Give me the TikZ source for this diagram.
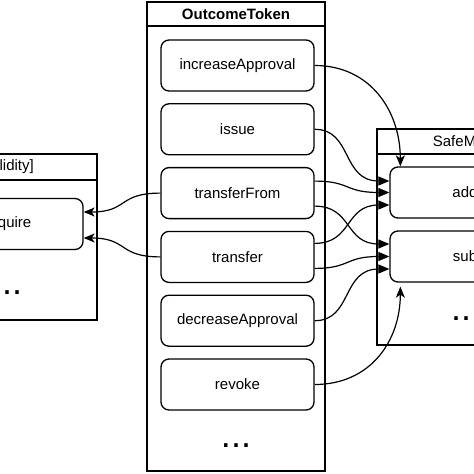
\documentclass[tikz,border=0pt]{standalone}
\usepackage{fontspec}
\setmainfont{Liberation Sans}
\usetikzlibrary{arrows.meta,calc}
\begin{document}
\begin{tikzpicture}[x=1pt,y=-1pt,
  txt/.style={font=\fontsize{15}{18}\selectfont},
  cont/.style={draw, line width=1.3pt, inner sep=0pt},
  fn/.style={draw, line width=1.3pt, rounded corners=8pt, minimum height=51pt, inner sep=0pt, txt},
  dots/.style={anchor=base, inner sep=0pt, font=\fontsize{36}{40}\selectfont},
  conn/.style={line width=1.2pt},
  blk/.style={-{Triangle[length=11pt,width=9pt]}},
  cls/.style={-{Stealth[length=11pt,width=9pt,inset=3pt]}}
]
\useasboundingbox (0,0) rectangle (474,474);
\clip (0,0) rectangle (474,474);

% left container
\node[cont, minimum width=178pt, minimum height=166pt] (sol) at (8,237) {};
\draw[line width=1.3pt] (sol.west |- 0,180) -- (sol.east |- 0,180);
\node[txt] (solt) at (5.5,167) {[Solidity]};
\node[fn, minimum width=150pt] (req) at (8,224) {require};
\node[dots] (sold) at (7,294) {...};

% SafeMath container
\node[cont, minimum width=176pt, minimum height=216pt] (sm) at (465,237) {};
\draw[line width=1.3pt] (sm.west |- 0,154) -- (sm.east |- 0,154);
\node[txt] (smt) at (465,141.5) {SafeMath};
\node[fn, minimum width=150pt] (add) at (465,192.5) {add};
\node[fn, minimum width=150pt] (sub) at (465,256.5) {sub};
\node[dots] (smd) at (466,320) {...};

% OutcomeToken container
\node[cont, line width=2.6pt, minimum width=178pt, minimum height=469pt] (ot) at (236,236.5) {};
\draw[line width=2.6pt] (ot.west |- 0,26) -- (ot.east |- 0,26);
\node[txt, font=\fontsize{15}{18}\selectfont\bfseries] (ott) at (236,14) {OutcomeToken};
\node[fn, minimum width=153pt] (ia) at (237.5,65.5) {increaseApproval};
\node[fn, minimum width=153pt] (is) at (237.5,129.3) {issue};
\node[fn, minimum width=153pt] (tf) at (237.5,193.1) {transferFrom};
\node[fn, minimum width=153pt] (tr) at (237.5,256.9) {transfer};
\node[fn, minimum width=153pt] (da) at (237.5,320.7) {decreaseApproval};
\node[fn, minimum width=153pt] (rv) at (237.5,384.5) {revoke};
\node[dots] (otd) at (236,447) {...};

% connectors to SafeMath
\draw[conn,cls] (ia.east) .. controls +(56,0) and +(0,-55) .. ($(add.north west)+(11,0)$);
\draw[conn,blk] (is.east) .. controls +(38,0) and +(-48,0) .. ($(add.west)+(0,-11.5)$);
\draw[conn,blk] ($(tf.east)+(0,-12)$) .. controls +(36,0) and +(-45,0) .. (add.west);
\draw[conn,blk] ($(tf.east)+(0,13)$) .. controls +(38,0) and +(-45,0) .. ($(sub.west)+(0,-12.5)$);
\draw[conn,blk] ($(tr.east)+(0,-13.5)$) .. controls +(38,0) and +(-45,0) .. ($(add.west)+(0,12.5)$);
\draw[conn,blk] ($(tr.east)+(0,11.5)$) .. controls +(36,0) and +(-45,0) .. (sub.west);
\draw[conn,blk] (da.east) .. controls +(38,0) and +(-48,0) .. ($(sub.west)+(0,12.5)$);
\draw[conn,cls] (rv.east) .. controls +(56,0) and +(0,54) .. ($(sub.south west)+(11,4)$);

% connectors to require
\draw[conn,cls] (tf.west) .. controls +(-43,0) and +(45,0) .. ($(req.east)+(0,-12)$);
\draw[conn,cls] (tr.west) .. controls +(-43,0) and +(45,0) .. ($(req.east)+(0,14)$);
\end{tikzpicture}
\end{document}
